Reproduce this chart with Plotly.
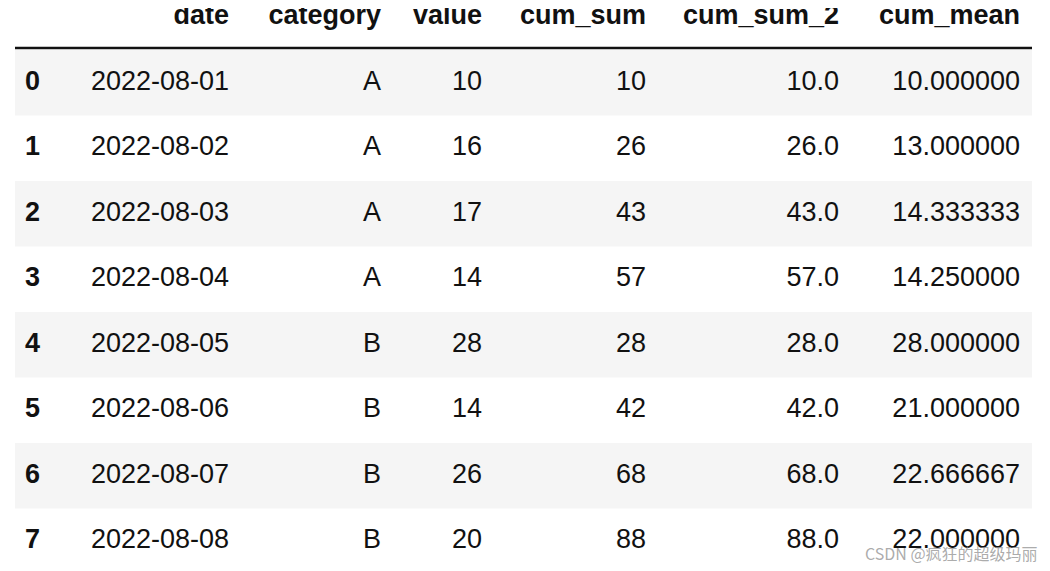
import plotly.graph_objects as go

columns = ["date", "category", "value", "cum_sum", "cum_sum_2", "cum_mean"]
index = ["0", "1", "2", "3", "4", "5", "6", "7"]
date = ["2022-08-01", "2022-08-02", "2022-08-03", "2022-08-04",
        "2022-08-05", "2022-08-06", "2022-08-07", "2022-08-08"]
category = ["A", "A", "A", "A", "B", "B", "B", "B"]
value = [10, 16, 17, 14, 28, 14, 26, 20]
cum_sum = [10, 26, 43, 57, 28, 42, 68, 88]
cum_sum_2 = [10.0, 26.0, 43.0, 57.0, 28.0, 42.0, 68.0, 88.0]
cum_mean = [10.000000, 13.000000, 14.333333, 14.250000,
            28.000000, 21.000000, 22.666667, 22.000000]

cells = [date, category, [str(v) for v in value], [str(v) for v in cum_sum],
         [f"{v:.1f}" for v in cum_sum_2], [f"{v:.6f}" for v in cum_mean]]

# layout (pixel positions in the reference image)
right_edges = [229, 381, 482, 646, 839, 1020]
top = 50
rh = 65.5
ys = [top + rh * (i + 0.5) for i in range(len(index))]

fig = go.Figure()
shapes = []
for i in range(len(index)):
    if i % 2 == 0:
        shapes.append(dict(type="rect", x0=15, x1=1032, y0=top + rh * i, y1=top + rh * (i + 1),
                           fillcolor="#f5f5f5", line_width=0, layer="below"))
shapes.append(dict(type="line", x0=15, x1=1032, y0=48, y1=48, line=dict(color="#111", width=2.5)))

font = "Liberation Sans, Arial, sans-serif"
fig.add_trace(go.Scatter(x=[25] * len(index), y=ys, text=index, mode="text",
                         textposition="middle right",
                         textfont=dict(family=font, size=27, color="#111", weight="bold")))
for col, xr, vals in zip(columns, right_edges, cells):
    fig.add_trace(go.Scatter(x=[xr] * len(vals), y=ys, text=vals, mode="text",
                             textposition="middle left",
                             textfont=dict(family=font, size=27, color="#111")))
    fig.add_trace(go.Scatter(x=[xr], y=[17], text=[col], mode="text",
                             textposition="middle left",
                             textfont=dict(family=font, size=27, color="#111", weight="bold")))

fig.add_annotation(x=1040, y=553, text="CSDN @疯狂的超级玛丽", showarrow=False,
                   xanchor="right", yanchor="middle",
                   font=dict(family="Noto Sans CJK SC", size=16, color="rgba(150,150,150,0.8)"))

# page body has an 8px margin: map the reference pixels onto the visible area
fig.update_layout(width=1034, height=555, margin=dict(l=0, r=0, t=0, b=0),
                  plot_bgcolor="white", paper_bgcolor="white", showlegend=False,
                  shapes=shapes,
                  xaxis=dict(range=[8, 1042], visible=False, fixedrange=True),
                  yaxis=dict(range=[563, 8], visible=False, fixedrange=True))
fig.write_html("out.html")
